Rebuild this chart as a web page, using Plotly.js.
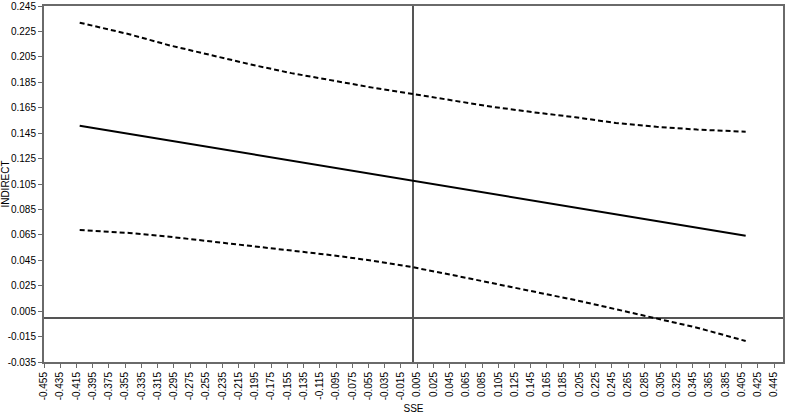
<!DOCTYPE html>
<html>
<head>
<meta charset="utf-8">
<script src="https://cdn.plot.ly/plotly-3.0.1.min.js"></script>
<style>
	html, body { margin: 0; padding: 0; background: #fff; }
	#plotDiv { width: 785px; height: 420px; }
</style>
</head>
<body>
<div id="plotDiv"></div>
<script>
// values
const sse = [-0.411, -0.35, -0.30, -0.25, -0.20, -0.15, -0.10, -0.05, 0, 0.05, 0.10, 0.15, 0.20, 0.25, 0.30, 0.35, 0.41]
const indirect = [0.1509, 0.1445, 0.1390, 0.1337, 0.1285, 0.1232, 0.1180, 0.1127, 0.1075, 0.1022, 0.0968, 0.0915, 0.0862, 0.0810, 0.0757, 0.0705, 0.0643]
const upper = [0.2319, 0.2228, 0.2140, 0.2065, 0.1990, 0.1922, 0.1862, 0.1808, 0.1757, 0.1705, 0.1655, 0.1613, 0.1575, 0.1530, 0.1500, 0.1478, 0.1461]
const lower = [0.0688, 0.0665, 0.0635, 0.0600, 0.0565, 0.0527, 0.0490, 0.0447, 0.0395, 0.0332, 0.0267, 0.0205, 0.0137, 0.0065, -0.0005, -0.0080, -0.0185]

const xTickText = ['-0.455','-0.435','-0.415','-0.395','-0.375','-0.355','-0.335','-0.315','-0.295','-0.275',
	'-0.255','-0.235','-0.215','-0.195','-0.175','-0.155','-0.135','-0.115','-0.095','-0.075',
	'-0.055','-0.035','-0.015','0.005','0.025','0.045','0.065','0.085','0.105','0.125',
	'0.145','0.165','0.185','0.205','0.225','0.245','0.265','0.285','0.305','0.325',
	'0.345','0.365','0.385','0.405','0.425','0.445']
const yTickText = ['0.245','0.225','0.205','0.185','0.165','0.145','0.125','0.105','0.085','0.065',
	'0.045','0.025','0.005','-0.015','-0.035']

const axisColor = '#6a6a6a'
const fontFamily = 'Liberation Sans, Arial, sans-serif'
const tickFont = {family: fontFamily, size: 10, color: '#000'}

const trace_mid = {
	x: sse, y: indirect, type: 'scatter', mode: 'lines',
	line: {color: '#000', width: 2}
}
const trace_upper = {
	x: sse, y: upper, type: 'scatter', mode: 'lines', line: {color: '#000', width: 2, dash: '5px,3px'}
}
const trace_lower = {
	x: sse, y: lower, type: 'scatter', mode: 'lines', line: {color: '#000', width: 2, dash: '5px,3px'}
}

const layout = {
	width: 785,
	height: 420,
	showlegend: false,
	paper_bgcolor: '#fff',
	plot_bgcolor: '#fff',
	margin: {l: 44, r: 2, t: 6, b: 58},
	xaxis: {
		range: [-0.455, 0.456],
		tickvals: xTickText.map(Number),
		ticktext: xTickText,
		tickangle: -90,
		tickfont: tickFont,
		ticks: 'outside', ticklen: 4, tickcolor: axisColor, tickwidth: 1,
		showgrid: false,
		showline: true, linecolor: axisColor, linewidth: 2, mirror: true,
		zeroline: true, zerolinecolor: '#555', zerolinewidth: 2,
		title: {text: 'SSE', font: {family: fontFamily, size: 10, color: '#000'}, standoff: 6},
		fixedrange: true
	},
	yaxis: {
		range: [-0.035, 0.245],
		tickvals: yTickText.map(Number),
		ticktext: yTickText,
		tickfont: tickFont,
		ticks: 'outside', ticklen: 4, tickcolor: axisColor, tickwidth: 1,
		showgrid: false,
		showline: true, linecolor: axisColor, linewidth: 2, mirror: true,
		zeroline: true, zerolinecolor: '#555', zerolinewidth: 2,
		title: {text: 'INDIRECT', font: {family: fontFamily, size: 10, color: '#000'}, standoff: 0},
		fixedrange: true
	}
}

Plotly.newPlot('plotDiv', [trace_upper, trace_lower, trace_mid], layout, {displayModeBar: false, staticPlot: true})
</script>
</body>
</html>
